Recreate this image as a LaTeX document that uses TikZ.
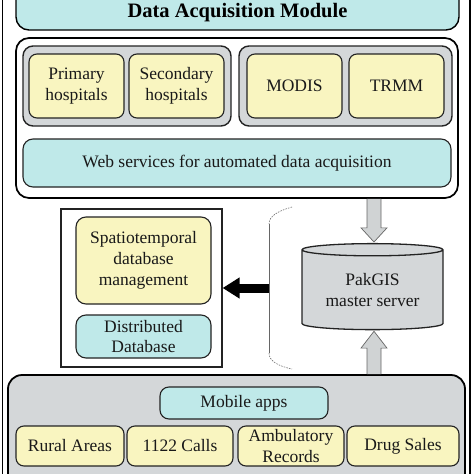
\documentclass[tikz,border=0pt]{standalone}
\usepackage{fontspec}
\setmainfont{Liberation Serif}
\usetikzlibrary{shapes.geometric,arrows.meta,calc}
\definecolor{cyanfill}{RGB}{191,233,233}
\definecolor{yelfill}{RGB}{249,245,192}
\definecolor{greyfill}{RGB}{212,215,217}
\definecolor{arrowgrey}{RGB}{208,211,212}
\definecolor{edge}{RGB}{35,35,35}
\begin{document}
\begin{tikzpicture}[x=1pt,y=-1pt,
  txt/.style={font=\fontsize{17.5}{21}\selectfont, align=center, inner sep=0pt, text=black!90},
  ybox/.style={txt, draw=edge, line width=1.1pt, fill=yelfill, rounded corners=8pt},
  cbox/.style={txt, draw=edge, line width=1.1pt, fill=cyanfill, rounded corners=9pt},
  grp/.style={draw=edge, line width=1.4pt, fill=greyfill, rounded corners=10pt, inner sep=0pt},
  cont/.style={draw=black, line width=1.7pt, rounded corners=13pt, inner sep=0pt},
  garrow/.style={fill=arrowgrey, draw=black!60, line width=0.7pt, line join=miter}
]
\useasboundingbox (0,0) rectangle (474,474);
\clip (0,0) rectangle (474,474);
% outer frame
\draw[line width=1.8pt] (2.5,-20) rectangle (470,500);
% title
\node[cont, fill=cyanfill, line width=1.4pt, minimum width=443, minimum height=60] (title) at (237.5,0) {};
\node[inner sep=0pt, font=\bfseries\fontsize{20.5}{24}\selectfont] (titletxt) at (237.5,13) {Data Acquisition Module};
% acquisition container
\node[cont, fill=white, minimum width=442, minimum height=160] (acq) at (237,118) {};
\node[grp, minimum width=208, minimum height=80] (g1) at (127,86) {};
\node[grp, minimum width=213, minimum height=80] (g2) at (345.5,86) {};
\node[ybox, minimum width=95, minimum height=64] (prim) at (76.5,86) {Primary\\hospitals};
\node[ybox, minimum width=95, minimum height=64] (sec) at (176.5,86) {Secondary\\hospitals};
\node[ybox, minimum width=95, minimum height=64] (modis) at (294.5,86) {MODIS};
\node[ybox, minimum width=95, minimum height=64] (trmm) at (396.5,86) {TRMM};
\node[cbox, minimum width=428, minimum height=48, rounded corners=10pt] (web) at (237,163) {Web services for automated data acquisition};
% database container
\node[draw=edge, line width=1.2pt, fill=white, minimum width=161, minimum height=158, inner sep=0pt] (db) at (141.5,288) {};
\node[ybox, minimum width=135, minimum height=87, rounded corners=10pt] (spt) at (143.5,260.5) {Spatiotemporal\\database\\management};
\node[cbox, minimum width=135, minimum height=43, rounded corners=10pt, font=\fontsize{17.5}{20}\selectfont] (dist) at (143.5,336.5) {Distributed\\Database};
% server
\node[cylinder, shape border rotate=90, aspect=0.13, draw=edge, line width=1.3pt, fill=greyfill,
      minimum width=141, minimum height=86, inner sep=0pt, txt] (srv) at (372.5,290) {PakGIS\\master server};
% bottom container
\node[cont, fill=greyfill, line width=1.8pt, minimum width=457, minimum height=120, rounded corners=14pt] (mob) at (236.5,435) {};
\node[cbox, minimum width=168, minimum height=32] (apps) at (244,403) {Mobile apps};
\node[ybox, minimum width=108, minimum height=40] (rural) at (70,446) {Rural Areas};
\node[ybox, minimum width=106, minimum height=40] (calls) at (180,446) {1122 Calls};
\node[ybox, minimum width=106, minimum height=40] (amb) at (291,446) {Ambulatory\\Records};
\node[ybox, minimum width=112, minimum height=40] (drug) at (403,446) {Drug Sales};
% grey arrows
\coordinate (d0) at (acq.south -| 374,0);
\coordinate (d1) at (srv.top -| 374,0);
\draw[garrow] ($(d0)+(-7,0)$) -- ($(d0)+(-7,29)$) -- ($(d0)+(-13,29)$) -- ($(d1)+(0,-1)$)
   -- ($(d0)+(13,29)$) -- ($(d0)+(7,29)$) -- ($(d0)+(7,0)$);
\coordinate (u0) at (mob.north -| 374,0);
\coordinate (u1) at (srv.bottom -| 374,0);
\draw[garrow] ($(u0)+(-7,0)$) -- ($(u0)+(-7,-26)$) -- ($(u0)+(-13,-26)$) -- ($(u1)+(0,1)$)
   -- ($(u0)+(13,-26)$) -- ($(u0)+(7,-26)$) -- ($(u0)+(7,0)$);
% bracket
\coordinate (bt) at (292,207);
\coordinate (bb) at (292,369);
\coordinate (brk) at (269,288);
\draw[black!60, line width=0.6pt, dash pattern=on 1.5pt off 1.2pt] (bt) .. controls (278,211) and (269,216) .. (269,224);
\draw[black!60, line width=0.7pt] (269,224) -- (269,353);
\draw[black!60, line width=0.6pt, dash pattern=on 1.5pt off 1.2pt] (269,353) .. controls (269,361) and (278,366) .. (bb);
% black arrow
\draw[line width=9pt, -{Triangle[length=17pt,width=20pt]}] (brk) -- (db.east);
\end{tikzpicture}
\end{document}
